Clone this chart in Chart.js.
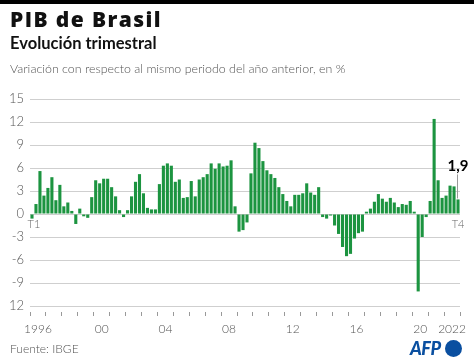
<!DOCTYPE html>
<html>
<head>
<meta charset="utf-8">
<script src="https://cdn.jsdelivr.net/npm/chart.js@4"></script>
<style>
  body { margin: 0; background: #fff; overflow: hidden; }
  #wrap { position: relative; width: 474px; height: 362px; font-family: Lato, "Open Sans", sans-serif; }
  #topbar { position: absolute; left: 0; top: 0; width: 474px; height: 4px; background: #000; }
  .txt { position: absolute; white-space: nowrap; }
  #title { left: 10px; top: 5px; font-family: "Open Sans", sans-serif; font-size: 21px; font-weight: 800; letter-spacing: 1.4px; color: #111; }
  #subtitle { left: 10px; top: 33px; font-size: 16.5px; font-weight: 700; color: #111; }
  #desc { left: 10px; top: 61px; font-size: 12.4px; color: #555; font-weight: 300; }
  #source { left: 10px; top: 341px; font-size: 12px; color: #555; font-weight: 300; }
  #afp { left: 410px; top: 337px; font-size: 18px; font-weight: 900; font-style: italic; color: #0a4fa0; letter-spacing: -0.5px; }
  #afpdot { position: absolute; left: 445px; top: 340px; width: 17px; height: 17px; border-radius: 50%; background: #0a4fa0; }
  canvas { position: absolute; left: 0; top: 0; }
</style>
</head>
<body>
<div id="wrap">
  <canvas id="chart" width="474" height="362"></canvas>
  <div id="topbar"></div>
  <div class="txt" id="title">PIB de Brasil</div>
  <div class="txt" id="subtitle">Evolución trimestral</div>
  <div class="txt" id="desc">Variación con respecto al mismo periodo del año anterior, en %</div>
  <div class="txt" id="source">Fuente: IBGE</div>
  <div class="txt" id="afp">AFP</div>
  <div id="afpdot"></div>
</div>
<script>
const years = [1996, 1997, 1998, 1999, 2000, 2001, 2002, 2003, 2004, 2005, 2006, 2007, 2008, 2009,
  2010, 2011, 2012, 2013, 2014, 2015, 2016, 2017, 2018, 2019, 2020, 2021, 2022];
const quarterNames = ["T1", "T2", "T3", "T4"];

// variación interanual, % (4 trimestres por año)
const growth = [
  -0.6, 1.3, 5.6, 2.4,     // 1996
  3.4, 4.8, 1.8, 3.8,      // 1997
  1.0, 1.5, 0.4, -1.3,     // 1998
  0.7, -0.3, -0.5, 2.2,    // 1999
  4.4, 4.0, 4.6, 4.6,      // 2000
  3.5, 2.3, 0.5, -0.4,     // 2001
  0.5, 2.3, 4.2, 5.2,      // 2002
  2.7, 0.8, 0.6, 0.6,      // 2003
  3.9, 6.3, 6.6, 6.3,      // 2004
  4.2, 4.5, 2.1, 2.2,      // 2005
  4.3, 2.3, 4.5, 4.8,      // 2006
  5.2, 6.6, 5.9, 6.6,      // 2007
  6.2, 6.3, 7.0, 1.0,      // 2008
  -2.3, -2.1, -1.1, 5.3,   // 2009
  9.3, 8.6, 6.9, 5.7,      // 2010
  5.2, 4.7, 3.5, 2.6,      // 2011
  1.7, 1.0, 2.5, 2.5,      // 2012
  2.7, 4.0, 2.8, 2.5,      // 2013
  3.5, -0.4, -0.6, -0.2,   // 2014
  -1.5, -2.6, -4.3, -5.5,  // 2015
  -5.2, -3.2, -2.5, -2.3,  // 2016
  0.3, 0.7, 1.6, 2.6,      // 2017
  2.0, 1.6, 2.1, 1.5,      // 2018
  0.9, 1.3, 1.2, 1.7,      // 2019
  0.3, -10.1, -3.0, -0.4,  // 2020
  1.7, 12.4, 4.4, 2.1,     // 2021
  2.4, 3.7, 3.6, 1.9       // 2022
];

const xTickYears = [1996, 2000, 2004, 2008, 2012, 2016, 2020, 2022];
const xTickText = ["1996", "00", "04", "08", "12", "16", "20", "2022"];
const yTicks = [-12, -9, -6, -3, 0, 3, 6, 9, 12, 15];
const lastLabel = "1,9";

const labels = years.flatMap(y => quarterNames.map(q => y + " " + q));

const notes = {
  id: "notes",
  afterDatasetsDraw(chart) {
    const ctx = chart.ctx;
    const xs = chart.scales.x, ys = chart.scales.y;
    const last = growth.length - 1;
    const x0 = xs.getPixelForValue(0);
    const xl = xs.getPixelForValue(last);
    const y0 = ys.getPixelForValue(0);
    ctx.save();
    ctx.fillStyle = "#666";
    ctx.font = "300 11px Lato";
    ctx.textBaseline = "middle";
    ctx.textAlign = "center";
    ctx.fillText(quarterNames[0], x0 + 2, y0 + 10);
    ctx.fillText(quarterNames[3], xl, y0 + 10);
    // etiqueta del último valor
    const yt = ys.getPixelForValue(growth[last]);
    ctx.strokeStyle = "#999";
    ctx.lineWidth = 1;
    ctx.beginPath();
    ctx.moveTo(Math.round(xl) - 0.5, yt - 1);
    ctx.lineTo(Math.round(xl) - 0.5, yt - 25);
    ctx.stroke();
    ctx.fillStyle = "#000";
    ctx.font = "700 15px Lato";
    ctx.fillText(lastLabel, xl, yt - 33);
    ctx.restore();
  }
};

new Chart(document.getElementById("chart"), {
  type: "bar",
  data: {
    labels: labels,
    datasets: [{
      data: growth,
      backgroundColor: "#1c9440",
      barPercentage: 0.78,
      categoryPercentage: 1.0
    }]
  },
  options: {
    responsive: false,
    animation: false,
    layout: { padding: { left: 8, right: 14, top: 99, bottom: 26 } },
    plugins: { legend: { display: false }, tooltip: { enabled: false } },
    scales: {
      x: {
        border: { display: false },
        grid: {
          drawOnChartArea: false,
          offset: true,
          tickLength: 10,
          tickBorderDash: [0, 6, 4, 30],
          color: c => (c.index === undefined || c.index % 4 === 0) ? "#999" : "rgba(0,0,0,0)"
        },
        ticks: {
          autoSkip: false,
          maxRotation: 0,
          minRotation: 0,
          padding: 6,
          labelOffset: 2,
          color: "#555",
          font: { family: "Lato", size: 12, weight: 300 },
          callback: function (value, index) {
            if (index % 4 !== 1) return "";
            const k = xTickYears.indexOf(years[Math.floor(index / 4)]);
            return k >= 0 ? xTickText[k] : "";
          }
        },
        afterFit: s => { s.height = 30; }
      },
      y: {
        min: yTicks[0],
        max: yTicks[yTicks.length - 1],
        border: { display: false },
        afterBuildTicks: s => { s.ticks = yTicks.map(v => ({ value: v })); },
        grid: { color: "#cfcfcf", borderDash: [1, 2], drawTicks: false },
        ticks: {
          padding: 6,
          color: "#555",
          font: { family: "Lato", size: 13, weight: 300 }
        },
        afterFit: s => { s.width = 22; }
      }
    }
  },
  plugins: [notes]
});
</script>
</body>
</html>
